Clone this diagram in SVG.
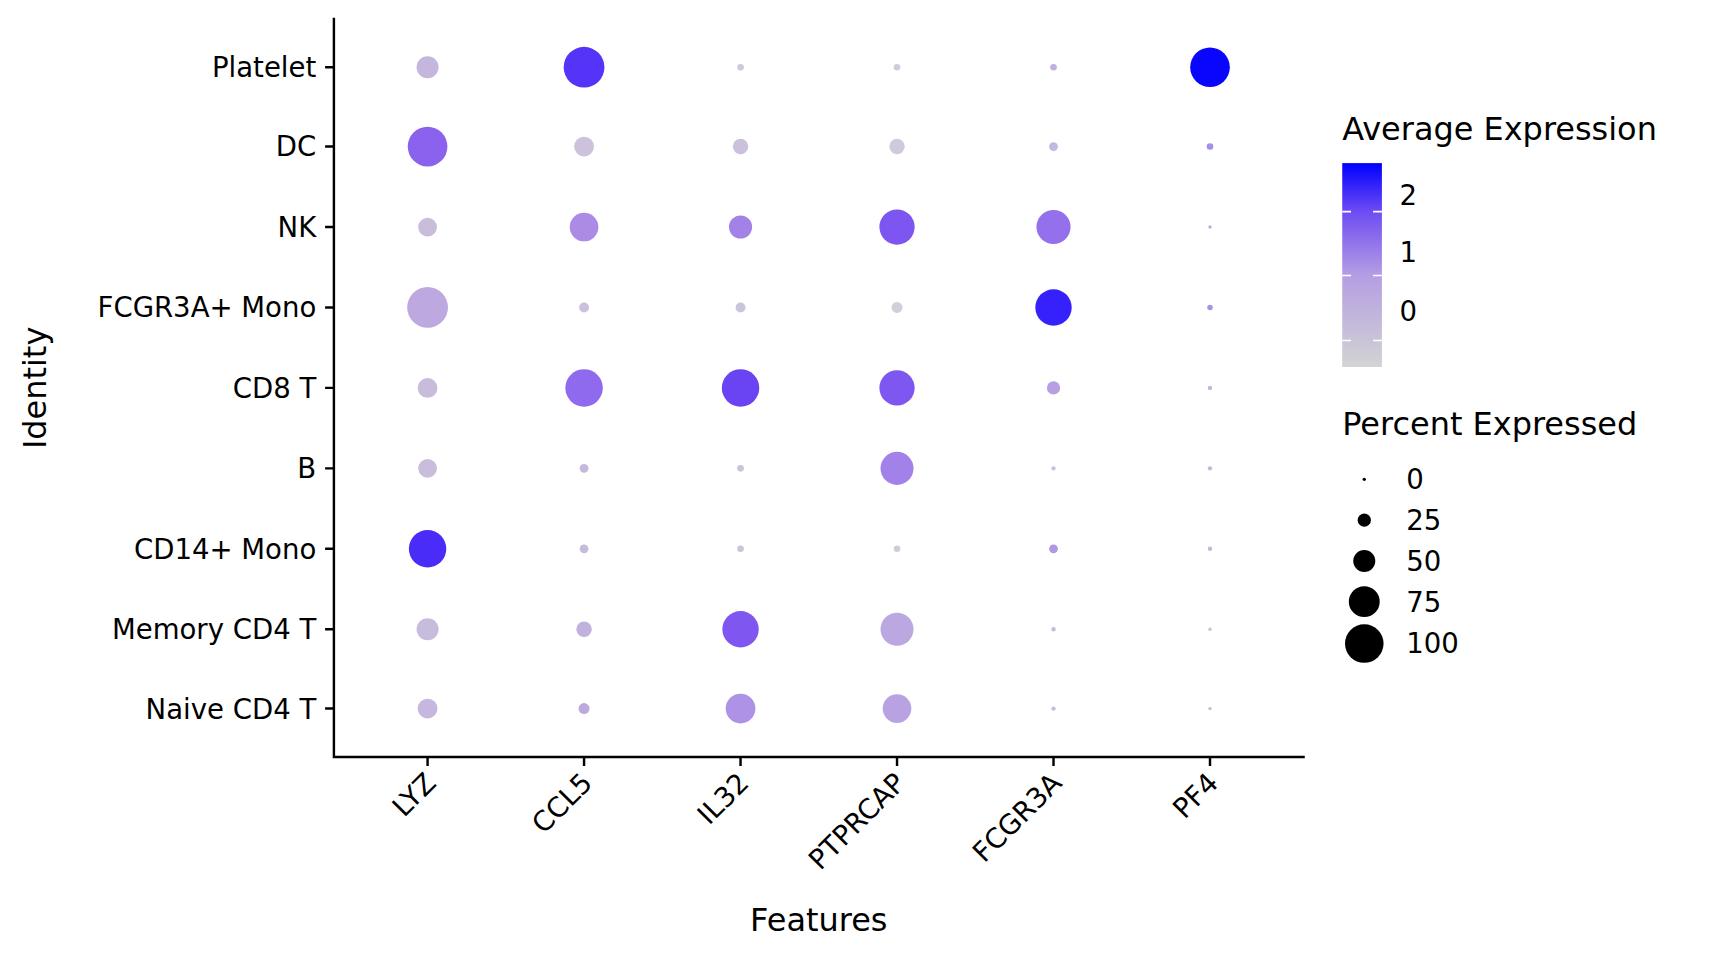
<svg xmlns="http://www.w3.org/2000/svg" width="1728" height="960" viewBox="0 0 1728 960">
<style>
text{font-family:"DejaVu Sans",sans-serif;fill:#000}
.yl{font-size:25px;text-anchor:end}
.xl{font-size:25px;text-anchor:end}
.tt{font-size:29px}
.lg{font-size:25px}
.ax{stroke:#000;stroke-width:2.2;fill:none}
</style>
<defs>
<linearGradient id="cb" x1="0" y1="1" x2="0" y2="0">
<stop offset="0" stop-color="#d3d3d3"/><stop offset="0.45" stop-color="#b49ee3"/><stop offset="0.76" stop-color="#6f4cf2"/><stop offset="1" stop-color="#0000ff"/>
</linearGradient>
</defs>
<rect width="1728" height="960" fill="#fff"/>
<g transform="scale(1.102)">
<g id="axes">
<path class="ax" d="M303 16V687H1184"/>
<path class="ax" d="M303 61h-8M303 133h-8M303 206h-8M303 279h-8M303 352h-8M303 425h-8M303 498h-8M303 571h-8M303 643h-8"/>
<path class="ax" d="M388 687v8M530 687v8M672 687v8M814 687v8M956 687v8M1098 687v8"/>
</g>
<g id="ylabels">
<text class="yl" x="287" y="70">Platelet</text>
<text class="yl" x="287" y="142">DC</text>
<text class="yl" x="287" y="215">NK</text>
<text class="yl" x="287" y="288">FCGR3A+ Mono</text>
<text class="yl" x="287" y="361">CD8 T</text>
<text class="yl" x="287" y="434">B</text>
<text class="yl" x="287" y="507">CD14+ Mono</text>
<text class="yl" x="287" y="580">Memory CD4 T</text>
<text class="yl" x="287" y="652">Naive CD4 T</text>
</g>
<g id="xlabels">
<text class="xl" transform="translate(397,712) rotate(-45)">LYZ</text>
<text class="xl" transform="translate(539,712) rotate(-45)">CCL5</text>
<text class="xl" transform="translate(681,712) rotate(-45)">IL32</text>
<text class="xl" transform="translate(823,712) rotate(-45)">PTPRCAP</text>
<text class="xl" transform="translate(965,712) rotate(-45)">FCGR3A</text>
<text class="xl" transform="translate(1107,712) rotate(-45)">PF4</text>
</g>
<text class="tt" x="743" y="845" text-anchor="middle">Features</text>
<text class="tt" transform="translate(42,352) rotate(-90)" text-anchor="middle">Identity</text>
<g id="dots">
<circle cx="388" cy="61" r="10" fill="#c4b6dc"/><circle cx="530" cy="61" r="18.5" fill="#5533f9"/><circle cx="672" cy="61" r="3" fill="#cfc8dd"/><circle cx="814" cy="61" r="3" fill="#d0cadd"/><circle cx="956" cy="61" r="3" fill="#bfb0e0"/><circle cx="1098" cy="61" r="18" fill="#0a05fd"/>
<circle cx="388" cy="133" r="18" fill="#8a62ee"/><circle cx="530" cy="133" r="9" fill="#ccc2dc"/><circle cx="672" cy="133" r="7" fill="#cbc1dd"/><circle cx="814" cy="133" r="7" fill="#d0c9dc"/><circle cx="956" cy="133" r="4" fill="#c4b8de"/><circle cx="1098" cy="133" r="3" fill="#a48ee6"/>
<circle cx="388" cy="206" r="8.5" fill="#c9bddc"/><circle cx="530" cy="206" r="13" fill="#ab8be6"/><circle cx="672" cy="206" r="10.5" fill="#a382e8"/><circle cx="814" cy="206" r="16" fill="#7d55f0"/><circle cx="956" cy="206" r="15.5" fill="#9470ec"/><circle cx="1098" cy="206" r="1.5" fill="#bbaadf"/>
<circle cx="388" cy="279" r="18.5" fill="#bda9df"/><circle cx="530" cy="279" r="4.5" fill="#cbc1dc"/><circle cx="672" cy="279" r="4.5" fill="#ccc3dd"/><circle cx="814" cy="279" r="5" fill="#d3cfd8"/><circle cx="956" cy="279" r="16.5" fill="#3620fb"/><circle cx="1098" cy="279" r="2.5" fill="#a691e6"/>
<circle cx="388" cy="352" r="9" fill="#c8bcdc"/><circle cx="530" cy="352" r="17" fill="#8f6aee"/><circle cx="672" cy="352" r="17" fill="#6a44f3"/><circle cx="814" cy="352" r="16" fill="#7e56f0"/><circle cx="956" cy="352" r="6" fill="#b69fe2"/><circle cx="1098" cy="352" r="2" fill="#c2b5de"/>
<circle cx="388" cy="425" r="8.5" fill="#c9bddc"/><circle cx="530" cy="425" r="4" fill="#c5b9de"/><circle cx="672" cy="425" r="3" fill="#cbc2dc"/><circle cx="814" cy="425" r="15" fill="#a282e8"/><circle cx="956" cy="425" r="2" fill="#cbc2dc"/><circle cx="1098" cy="425" r="2" fill="#c5b9dd"/>
<circle cx="388" cy="498" r="17" fill="#4a2cf9"/><circle cx="530" cy="498" r="4" fill="#c6badd"/><circle cx="672" cy="498" r="3" fill="#cbc2dc"/><circle cx="814" cy="498" r="3" fill="#d1cbdb"/><circle cx="956" cy="498" r="4" fill="#ae98e4"/><circle cx="1098" cy="498" r="2" fill="#c4b7dd"/>
<circle cx="388" cy="571" r="10" fill="#c8bcdc"/><circle cx="530" cy="571" r="7" fill="#c0b1df"/><circle cx="672" cy="571" r="16.5" fill="#8056f0"/><circle cx="814" cy="571" r="15" fill="#bca8e0"/><circle cx="956" cy="571" r="2" fill="#c7bbdd"/><circle cx="1098" cy="571" r="1.5" fill="#c8bddd"/>
<circle cx="388" cy="643" r="9" fill="#c5b7dd"/><circle cx="530" cy="643" r="5" fill="#bca9df"/><circle cx="672" cy="643" r="13.5" fill="#ae92e5"/><circle cx="814" cy="643" r="13" fill="#b8a2e2"/><circle cx="956" cy="643" r="2" fill="#c7bcdc"/><circle cx="1098" cy="643" r="1.5" fill="#c5b9dd"/>
</g>
<g id="legend-color">
<text class="tt" x="1218" y="127">Average Expression</text>
<rect x="1218" y="148" width="36" height="185" fill="url(#cb)"/>
<path d="M1218 192h8M1246 192h8M1218 250h8M1246 250h8M1218 309h8M1246 309h8" stroke="#fff" stroke-width="1.5"/>
<text class="lg" x="1270" y="186">2</text>
<text class="lg" x="1270" y="238">1</text>
<text class="lg" x="1270" y="291">0</text>
</g>
<g id="legend-size">
<text class="tt" x="1218" y="395">Percent Expressed</text>
<circle cx="1238" cy="435" r="1.5"/><circle cx="1238" cy="472" r="6"/><circle cx="1238" cy="509" r="10"/><circle cx="1238" cy="546" r="14"/><circle cx="1238" cy="584" r="17.5"/>
<text class="lg" x="1276" y="444">0</text>
<text class="lg" x="1276" y="481">25</text>
<text class="lg" x="1276" y="518">50</text>
<text class="lg" x="1276" y="555">75</text>
<text class="lg" x="1276" y="593">100</text>
</g>
</g>
</svg>
